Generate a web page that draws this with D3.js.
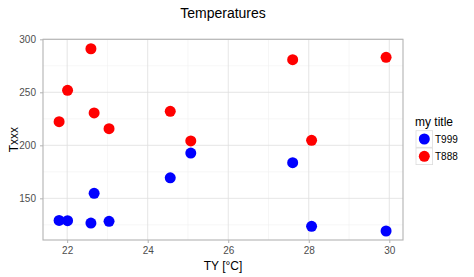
<!DOCTYPE html>
<html><head><meta charset="utf-8">
<script src="https://cdn.jsdelivr.net/npm/d3@7"></script>
<style>body{margin:0;background:#fff}svg{display:block}</style>
</head><body>
<svg id="c" width="474" height="277"></svg>
<script>
const tyValues = [21.80, 22.01, 22.59, 22.67, 23.04, 24.56, 25.07, 27.60, 28.07, 29.92];
const t999 = [129.2, 128.9, 126.7, 154.7, 128.3, 169.4, 192.7, 183.6, 123.6, 119.2];
const t888 = [222.3, 251.9, 291.1, 230.5, 215.7, 232.1, 204.1, 280.8, 204.7, 283.0];
const seriesNames = ["T999", "T888"];
const seriesColors = ["#0000FF", "#FF0000"];
const xTicks = [22, 24, 26, 28, 30];
const yTicks = [150, 200, 250, 300];
const xMinor = [23, 25, 27, 29];
const yMinor = [125, 175, 225, 275];

const svg = d3.select("#c");
const L = 43, R = 403, T = 39.3, B = 240;
const x = d3.scaleLinear().domain([21.40, 30.34]).range([L, R]);
const y = d3.scaleLinear().domain([110.7, 300]).range([B, T]);
const font = "Arial, 'Liberation Sans', sans-serif";

const g = svg.append("g");
// minor grid
g.selectAll(".xm").data(xMinor).join("line").attr("x1", d => x(d)).attr("x2", d => x(d)).attr("y1", T).attr("y2", B).attr("stroke", "#f0f0f0").attr("stroke-width", 0.6);
g.selectAll(".ym").data(yMinor).join("line").attr("y1", d => y(d)).attr("y2", d => y(d)).attr("x1", L).attr("x2", R).attr("stroke", "#f0f0f0").attr("stroke-width", 0.6);
// major grid
g.selectAll(".xg").data(xTicks).join("line").attr("x1", d => x(d)).attr("x2", d => x(d)).attr("y1", T).attr("y2", B).attr("stroke", "#dedede").attr("stroke-width", 0.8);
g.selectAll(".yg").data(yTicks).join("line").attr("y1", d => y(d)).attr("y2", d => y(d)).attr("x1", L).attr("x2", R).attr("stroke", "#dedede").attr("stroke-width", 0.8);

// axes
const xAxis = svg.append("g").attr("transform", `translate(0,${B})`)
  .call(d3.axisBottom(x).tickValues(xTicks).tickSize(3).tickPadding(4));
const yAxis = svg.append("g").attr("transform", `translate(${L},0)`)
  .call(d3.axisLeft(y).tickValues(yTicks).tickSize(3).tickPadding(4));
[xAxis, yAxis].forEach(a => {
  a.select(".domain").remove();
  a.selectAll(".tick line").attr("stroke", "#b3b3b3");
  a.selectAll(".tick text").attr("fill", "#4d4d4d").style("font-family", font).style("font-size", "10px");
});

// panel border
svg.append("rect").attr("x", L).attr("y", T).attr("width", R - L).attr("height", B - T)
  .attr("fill", "none").attr("stroke", "#b3b3b3").attr("stroke-width", 1.1);

// points
const series = [t999, t888];
series.forEach((vals, i) => {
  svg.append("g").selectAll("circle").data(vals).join("circle")
    .attr("cx", (d, j) => x(tyValues[j])).attr("cy", d => y(d)).attr("r", 5.5)
    .attr("fill", seriesColors[i]);
});

// title & axis titles
svg.append("text").attr("x", 223).attr("y", 18).attr("text-anchor", "middle")
  .style("font-family", font).style("font-size", "14px").attr("fill", "#000").text("Temperatures");
svg.append("text").attr("x", 223).attr("y", 270).attr("text-anchor", "middle")
  .style("font-family", font).style("font-size", "12px").attr("fill", "#000").text("TY [°C]");
svg.append("text").attr("transform", `translate(18,${(T + B) / 2}) rotate(-90)`).attr("text-anchor", "middle")
  .style("font-family", font).style("font-size", "12px").attr("fill", "#000").text("Txxx");

// legend
const lg = svg.append("g");
lg.append("text").attr("x", 415).attr("y", 126).style("font-family", font).style("font-size", "12px").text("my title");
seriesNames.forEach((n, i) => {
  const cy = 139 + i * 17.3;
  lg.append("rect").attr("x", 416).attr("y", cy - 8.3).attr("width", 16.6).attr("height", 16.6)
    .attr("fill", "#fff").attr("stroke", "#dcdcdc").attr("stroke-width", 0.8);
  lg.append("circle").attr("cx", 424.3).attr("cy", cy).attr("r", 5.5).attr("fill", seriesColors[i]);
  lg.append("text").attr("x", 435).attr("y", cy + 3.5).style("font-family", font).style("font-size", "10px")
    .attr("fill", "#000").text(n);
});
</script>
</body></html>
